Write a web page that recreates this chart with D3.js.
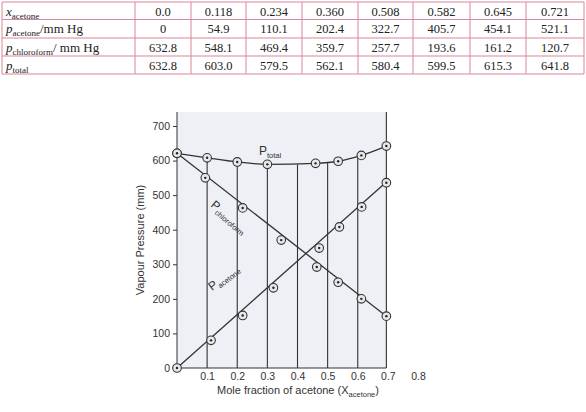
<!DOCTYPE html><html><head><meta charset="utf-8">
<script src="https://cdn.jsdelivr.net/npm/d3@7"></script>
<style>body{margin:0;background:#fff}svg{display:block}</style></head><body>
<script>
const rowLabels=["x_acetone","p_acetone/mm Hg","p_chloroform/ mm Hg","p_total"];
const xAcetone=["0.0","0.118","0.234","0.360","0.508","0.582","0.645","0.721"];
const pAcetoneTbl=["0","54.9","110.1","202.4","322.7","405.7","454.1","521.1"];
const pChloroTbl=["632.8","548.1","469.4","359.7","257.7","193.6","161.2","120.7"];
const pTotalTbl=["632.8","603.0","579.5","562.1","580.4","599.5","615.3","641.8"];
const totalPts=[[0,621],[0.1,608],[0.2,596],[0.3,589],[0.46,592],[0.535,598],[0.612,615],[0.695,642]];
const chloroPts=[[0,621],[0.094,550],[0.218,463],[0.346,370],[0.464,292],[0.535,248],[0.612,200],[0.695,150]];
const acetonePts=[[0,0],[0.113,80],[0.218,152],[0.32,232],[0.472,347],[0.539,408],[0.613,466],[0.695,536]];
const chloroLine=[[0,621],[0.695,150]];
const acetoneLine=[[0,0],[0.695,538]];
const gridX=[0.1,0.2,0.3,0.4,0.5,0.6];
const gridTop=[607,597,590,589,594,612];
const yTicks=[0,100,200,300,400,500,600,700];
const xTicks=[0.1,0.2,0.3,0.4,0.5,0.6,0.7,0.8];

const svg=d3.select("body").append("svg").attr("width",586).attr("height",412);
const pink="#d9879a";
const colX=[2,135,191,246,302,358,413,470,526,584];
const rowY=[2,19.5,38,56,74];
const t=svg.append("g").attr("font-family","Liberation Serif, DejaVu Serif, serif").attr("fill","#222");
rowY.forEach(y=>t.append("line").attr("x1",colX[0]).attr("x2",colX[9]).attr("y1",y).attr("y2",y).attr("stroke",pink));
colX.forEach(x=>t.append("line").attr("x1",x).attr("x2",x).attr("y1",rowY[0]).attr("y2",rowY[4]).attr("stroke",pink));
const subs=[["x","acetone",""],["p","acetone","/mm Hg"],["p","chloroform","/ mm Hg"],["p","total",""]];
subs.forEach((s,i)=>{const tx=t.append("text").attr("x",6).attr("y",rowY[i]+13.5).attr("font-size",13);
 tx.append("tspan").attr("font-style","italic").text(s[0]);
 tx.append("tspan").attr("font-size",9).attr("dy",3).text(s[1]);
 tx.append("tspan").attr("dy",-3).text(s[2]);});
[xAcetone,pAcetoneTbl,pChloroTbl,pTotalTbl].forEach((arr,i)=>arr.forEach((v,j)=>{
 t.append("text").attr("x",(colX[j+1]+colX[j+2])/2).attr("y",rowY[i]+13.5).attr("text-anchor","middle").attr("font-size",12.5).text(v);}));

const x=d3.scaleLinear().domain([0,0.8]).range([177,418]);
const y=d3.scaleLinear().domain([0,700]).range([368,126]);
const g=svg.append("g");
g.append("rect").attr("x",x(0)).attr("y",112).attr("width",x(0.695)-x(0)).attr("height",y(0)-112).attr("fill","#eef0f6");
gridX.forEach((gx,i)=>g.append("line").attr("x1",x(gx)).attr("x2",x(gx)).attr("y1",y(0)).attr("y2",y(gridTop[i])).attr("stroke","#333").attr("stroke-width",1.1));
g.append("line").attr("x1",x(0.695)).attr("x2",x(0.695)).attr("y1",y(0)).attr("y2",112).attr("stroke","#333").attr("stroke-width",1.1);
const ya=g.append("g").attr("transform",`translate(${x(0)},0)`).call(d3.axisLeft(y).tickValues(yTicks).tickSize(4).tickFormat(d3.format("d")));
ya.select(".domain").attr("d",`M0,${y(0)}V112`);
const xa=g.append("g").attr("transform",`translate(0,${y(0)})`).call(d3.axisBottom(x).tickValues(xTicks).tickSize(0).tickPadding(5).tickFormat(d3.format(".1f")));
xa.select(".domain").attr("d",`M${x(0)},0H${x(0.695)}`);
[ya,xa].forEach(a=>{a.selectAll("text").attr("font-family","Liberation Sans, Arial").attr("font-size",10.5).attr("fill","#333");a.selectAll("path,line").attr("stroke","#333");});
const ln=d3.line().x(d=>x(d[0])).y(d=>y(d[1]));
g.append("path").attr("d",ln.curve(d3.curveMonotoneX)(totalPts)).attr("fill","none").attr("stroke","#333").attr("stroke-width",1.3);
const ln2=d3.line().x(d=>x(d[0])).y(d=>y(d[1]));
[chloroLine,acetoneLine].forEach(l=>g.append("path").attr("d",ln2(l)).attr("fill","none").attr("stroke","#333").attr("stroke-width",1.3));
[totalPts,chloroPts,acetonePts].forEach(pts=>pts.forEach(p=>{
 g.append("circle").attr("cx",x(p[0])).attr("cy",y(p[1])).attr("r",4.3).attr("fill","#e8e8e8").attr("stroke","#333").attr("stroke-width",1.1);
 g.append("circle").attr("cx",x(p[0])).attr("cy",y(p[1])).attr("r",1.2).attr("fill","#222");}));
const lab=(tx,ty,rot,main,sub)=>{const e=g.append("text").attr("transform",`translate(${tx},${ty}) rotate(${rot})`).attr("font-family","Liberation Sans, Arial").attr("font-size",12).attr("fill","#333");
 e.append("tspan").text(main);e.append("tspan").attr("font-size",7.5).attr("dy",3).text(sub);};
lab(259,155,0,"P","total");
lab(210,206,40,"P","chloroform");
lab(212,291,-37,"P","acetone");
g.append("text").attr("transform",`translate(144,240) rotate(-90)`).attr("text-anchor","middle").attr("font-family","Liberation Sans, Arial").attr("font-size",11).attr("fill","#333").text("Vapour Pressure (mm)");
const xl=g.append("text").attr("x",298).attr("y",394).attr("text-anchor","middle").attr("font-family","Liberation Sans, Arial").attr("font-size",11).attr("fill","#333");
xl.append("tspan").text("Mole fraction of acetone (X");xl.append("tspan").attr("font-size",7.5).attr("dy",3).text("acetone");xl.append("tspan").attr("dy",-3).text(")");
</script></body></html>
